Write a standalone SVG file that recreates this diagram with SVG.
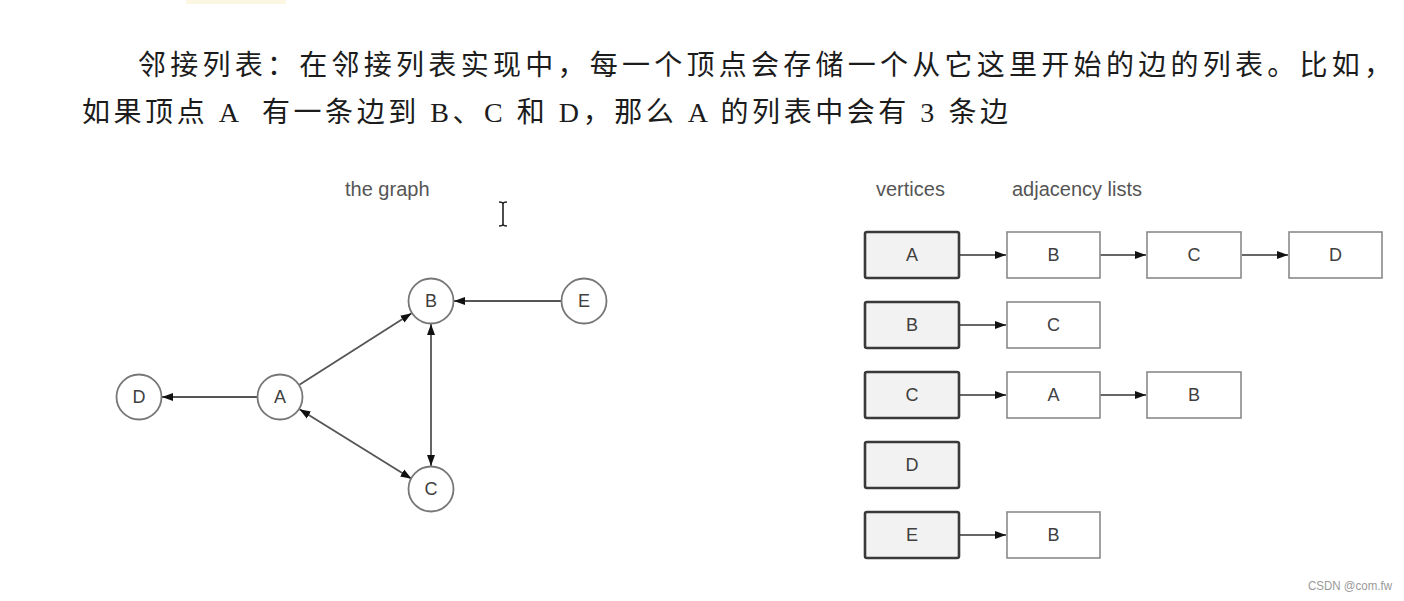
<svg xmlns="http://www.w3.org/2000/svg" width="1404" height="601" viewBox="0 0 1404 601">
<style>
.hdr{font-family:"Liberation Serif","Noto Sans CJK SC",serif;font-size:28px;fill:#1c1c1c}
.cap{font-family:"Liberation Sans",Arial,sans-serif;font-size:20px;fill:#555}
.lbl{font-family:"Liberation Sans",Arial,sans-serif;font-size:18px;fill:#404040;text-anchor:middle;dominant-baseline:central}
.node circle{fill:#fff;stroke:#777;stroke-width:1.8}
.vbox rect{fill:#f2f2f2;stroke:#3a3a3a;stroke-width:2.6}
.lbox rect{fill:#fff;stroke:#8a8a8a;stroke-width:1.6}
.edge{stroke:#555;stroke-width:1.8;fill:none}
.ledge{stroke:#333;stroke-width:1.5;fill:none}
.wm{font-family:"Liberation Sans",Arial,sans-serif;font-size:12px;fill:#9a9a9a}
</style>
<defs>
<marker id="ah" markerUnits="userSpaceOnUse" markerWidth="12" markerHeight="10" refX="11" refY="5" orient="auto-start-reverse">
<path d="M0,1 L11,5 L0,9 Z" fill="#111"/>
</marker>
</defs>
<rect width="1404" height="601" fill="#fff"/>
<rect x="186" y="0" width="100" height="4" fill="#fbf7e3"/>

<g id="header">
<text class="hdr" x="138" y="75" textLength="1254" lengthAdjust="spacing">邻接列表：在邻接列表实现中，每一个顶点会存储一个从它这里开始的边的列表。比如，</text>
<text class="hdr" x="82" y="122" textLength="926" lengthAdjust="spacing" xml:space="preserve">如果顶点 A  有一条边到 B、C 和 D，那么 A 的列表中会有 3 条边</text>
</g>

<g id="captions">
<text class="cap" x="345" y="196">the graph</text>
<text class="cap" x="876" y="196">vertices</text>
<text class="cap" x="1012" y="196">adjacency lists</text>
</g>

<g id="cursor" stroke="#222" stroke-width="1.6" fill="none">
<path d="M503,203 V225 M499,202 Q503,202 503,204 Q503,202 507,202 M499,226 Q503,226 503,224 Q503,226 507,226"/>
</g>

<g id="connectors">
<line class="edge" x1="561" y1="301" x2="454" y2="301" marker-end="url(#ah)"/>
<line class="edge" x1="257" y1="397" x2="162" y2="397" marker-end="url(#ah)"/>
<line class="edge" x1="299.4" y1="384.7" x2="411.6" y2="313.3" marker-end="url(#ah)"/>
<line class="edge" x1="299.5" y1="409.2" x2="411.5" y2="478.8" marker-start="url(#ah)" marker-end="url(#ah)"/>
<line class="edge" x1="431" y1="324" x2="431" y2="466" marker-start="url(#ah)" marker-end="url(#ah)"/>

<line class="ledge" x1="960" y1="255" x2="1006" y2="255" marker-end="url(#ah)"/>
<line class="ledge" x1="1100" y1="255" x2="1146" y2="255" marker-end="url(#ah)"/>
<line class="ledge" x1="1242" y1="255" x2="1288" y2="255" marker-end="url(#ah)"/>
<line class="ledge" x1="960" y1="325" x2="1006" y2="325" marker-end="url(#ah)"/>
<line class="ledge" x1="960" y1="395" x2="1006" y2="395" marker-end="url(#ah)"/>
<line class="ledge" x1="1100" y1="395" x2="1146" y2="395" marker-end="url(#ah)"/>
<line class="ledge" x1="960" y1="535" x2="1006" y2="535" marker-end="url(#ah)"/>
</g>

<g id="node-D" class="node"><circle cx="139" cy="397" r="22.5"/><text class="lbl" x="139" y="397">D</text></g>
<g id="node-A" class="node"><circle cx="280" cy="397" r="22.5"/><text class="lbl" x="280" y="397">A</text></g>
<g id="node-B" class="node"><circle cx="431" cy="301" r="22.5"/><text class="lbl" x="431" y="301">B</text></g>
<g id="node-E" class="node"><circle cx="584" cy="301" r="22.5"/><text class="lbl" x="584" y="301">E</text></g>
<g id="node-C" class="node"><circle cx="431" cy="489" r="22.5"/><text class="lbl" x="431" y="489">C</text></g>

<g id="vertex-A" class="vbox"><rect x="865" y="232" width="94" height="46" rx="2"/><text class="lbl" x="912" y="255">A</text></g>
<g id="vertex-B" class="vbox"><rect x="865" y="302" width="94" height="46" rx="2"/><text class="lbl" x="912" y="325">B</text></g>
<g id="vertex-C" class="vbox"><rect x="865" y="372" width="94" height="46" rx="2"/><text class="lbl" x="912" y="395">C</text></g>
<g id="vertex-D" class="vbox"><rect x="865" y="442" width="94" height="46" rx="2"/><text class="lbl" x="912" y="465">D</text></g>
<g id="vertex-E" class="vbox"><rect x="865" y="512" width="94" height="46" rx="2"/><text class="lbl" x="912" y="535">E</text></g>

<g id="list-A-B" class="lbox"><rect x="1007" y="232" width="93" height="46"/><text class="lbl" x="1053.5" y="255">B</text></g>
<g id="list-A-C" class="lbox"><rect x="1147" y="232" width="94" height="46"/><text class="lbl" x="1194" y="255">C</text></g>
<g id="list-A-D" class="lbox"><rect x="1289" y="232" width="93" height="46"/><text class="lbl" x="1335.5" y="255">D</text></g>
<g id="list-B-C" class="lbox"><rect x="1007" y="302" width="93" height="46"/><text class="lbl" x="1053.5" y="325">C</text></g>
<g id="list-C-A" class="lbox"><rect x="1007" y="372" width="93" height="46"/><text class="lbl" x="1053.5" y="395">A</text></g>
<g id="list-C-B" class="lbox"><rect x="1147" y="372" width="94" height="46"/><text class="lbl" x="1194" y="395">B</text></g>
<g id="list-E-B" class="lbox"><rect x="1007" y="512" width="93" height="46"/><text class="lbl" x="1053.5" y="535">B</text></g>

<text class="wm" x="1308" y="590" textLength="84" lengthAdjust="spacingAndGlyphs">CSDN @com.fw</text>
</svg>
